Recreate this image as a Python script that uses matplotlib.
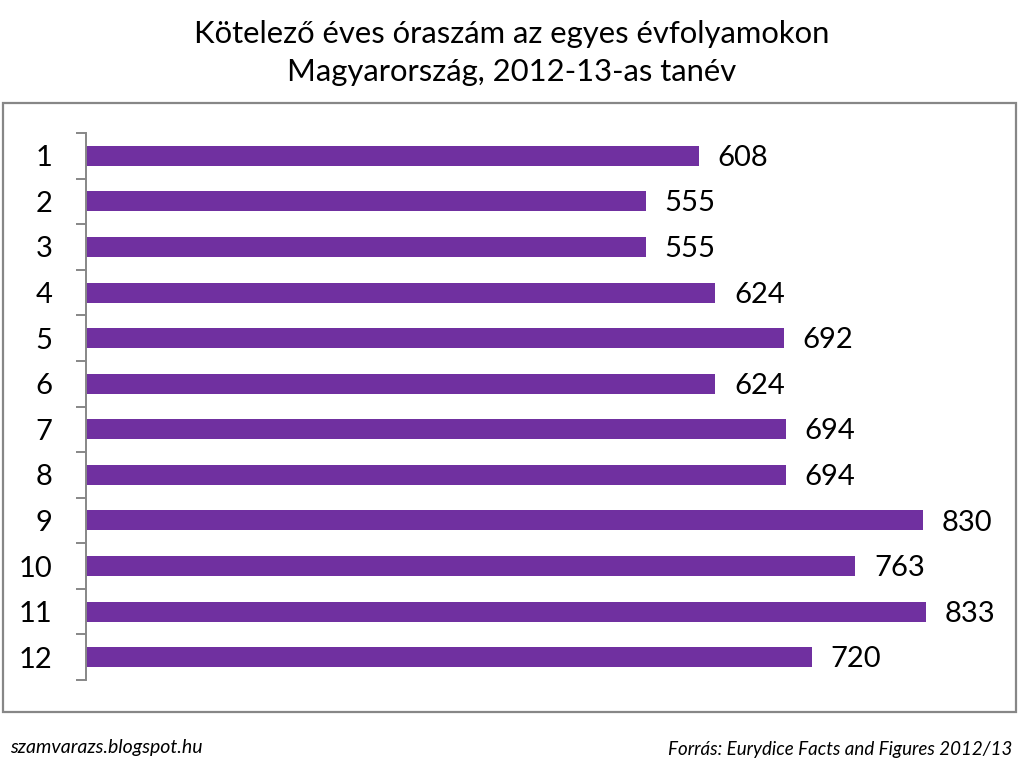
import matplotlib
matplotlib.use("Agg")
import matplotlib.pyplot as plt
from matplotlib.patches import Rectangle
from matplotlib.ticker import FixedLocator

grades = ["1", "2", "3", "4", "5", "6", "7", "8", "9", "10", "11", "12"]
hours = [608, 555, 555, 624, 692, 624, 694, 694, 830, 763, 833, 720]

title = "Kötelező éves óraszám az egyes évfolyamokon\nMagyarország, 2012-13-as tanév"
left_note = "szamvarazs.blogspot.hu"
right_note = "Forrás: Eurydice Facts and Figures 2012/13"

plt.rcParams['font.family'] = ['Lato', 'DejaVu Sans']

W, H = 1024, 768
fig = plt.figure(figsize=(W / 100, H / 100), dpi=100)

# outer chart border
fig.patches.append(Rectangle((3 / W, (H - 712) / H), (1016 - 3) / W, (712 - 103) / H,
                             transform=fig.transFigure, fill=False,
                             edgecolor="#878787", linewidth=1.6))

xmax = 900
px_per_unit = (926 - 86) / 833
ax = fig.add_axes([86 / W, 88 / H, (xmax * px_per_unit) / W, (680 - 133) / H])

pos = list(range(len(grades)))
ax.barh(pos, hours, height=0.44, color="#7030A0", edgecolor="none")
ax.set_ylim(len(grades) - 0.5, -0.5)
ax.set_xlim(0, xmax)

for p, v in zip(pos, hours):
    ax.annotate(str(v), (v, p), xytext=(13.5, -1.5), textcoords="offset points",
                ha="left", va="center", fontsize=21, color="black")

ax.set_yticks(pos)
ax.set_yticklabels(grades, fontsize=21)
ax.tick_params(axis="y", which="major", length=0, pad=24)
ax.yaxis.set_minor_locator(FixedLocator([p - 0.5 for p in pos] + [len(grades) - 0.5]))
ax.tick_params(axis="y", which="minor", length=7, width=1.4, color="#878787", direction="out")
for lbl in ax.get_yticklabels():
    lbl.set_horizontalalignment("right")
ax.set_xticks([])
for s in ["top", "right", "bottom"]:
    ax.spines[s].set_visible(False)
ax.spines["left"].set_color("#878787")
ax.spines["left"].set_linewidth(1.4)

fig.text(0.5, 1 - 53 / H, title, ha="center", va="center", fontsize=22.3,
         linespacing=1.4, color="black")
fig.text(10 / W, 1 - 748 / H, left_note, ha="left", va="center", fontsize=14,
         style="italic", color="black")
fig.text(1012 / W, 1 - 750 / H, right_note, ha="right", va="center", fontsize=13.5,
         style="italic", color="black")

fig.savefig("out.png", dpi=100)
